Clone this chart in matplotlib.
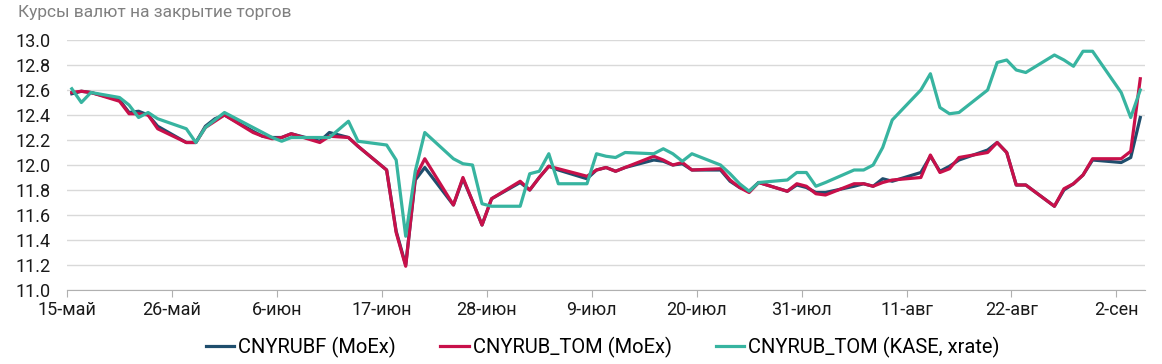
import pandas as pd
import matplotlib.pyplot as plt

# trading days (2024)
dates = ['2024-05-15', '2024-05-16', '2024-05-17', '2024-05-20', '2024-05-21', '2024-05-22',
         '2024-05-23', '2024-05-24', '2024-05-27', '2024-05-28', '2024-05-29', '2024-05-30',
         '2024-05-31', '2024-06-03', '2024-06-04', '2024-06-05', '2024-06-06', '2024-06-07',
         '2024-06-10', '2024-06-11', '2024-06-13', '2024-06-14', '2024-06-17', '2024-06-18',
         '2024-06-19', '2024-06-20', '2024-06-21', '2024-06-24', '2024-06-25', '2024-06-26',
         '2024-06-27', '2024-06-28', '2024-07-01', '2024-07-02', '2024-07-03', '2024-07-04',
         '2024-07-05', '2024-07-08', '2024-07-09', '2024-07-10', '2024-07-11', '2024-07-12',
         '2024-07-15', '2024-07-16', '2024-07-17', '2024-07-18', '2024-07-19', '2024-07-22',
         '2024-07-23', '2024-07-24', '2024-07-25', '2024-07-26', '2024-07-29', '2024-07-30',
         '2024-07-31', '2024-08-01', '2024-08-02', '2024-08-05', '2024-08-06', '2024-08-07',
         '2024-08-08', '2024-08-09', '2024-08-12', '2024-08-13', '2024-08-14', '2024-08-15',
         '2024-08-16', '2024-08-19', '2024-08-20', '2024-08-21', '2024-08-22', '2024-08-23',
         '2024-08-26', '2024-08-27', '2024-08-28', '2024-08-29', '2024-08-30', '2024-09-02',
         '2024-09-03', '2024-09-04']

cnyrubf_moex = [12.57, 12.59, 12.58, 12.52, 12.42, 12.43, 12.40, 12.31, 12.18, 12.18, 12.31, 12.37,
                12.40, 12.27, 12.23, 12.22, 12.22, 12.25, 12.19, 12.26, 12.22, 12.15, 11.96, 11.47,
                11.20, 11.88, 11.98, 11.68, 11.89, 11.71, 11.52, 11.73, 11.86, 11.80, 11.90, 11.99,
                11.96, 11.89, 11.96, 11.98, 11.95, 11.98, 12.04, 12.03, 12.00, 12.01, 11.96, 11.96,
                11.87, 11.82, 11.79, 11.86, 11.79, 11.84, 11.82, 11.78, 11.78, 11.83, 11.85, 11.83,
                11.89, 11.87, 11.94, 12.07, 11.95, 11.99, 12.04, 12.12, 12.18, 12.10, 11.84, 11.84,
                11.67, 11.80, 11.85, 11.92, 12.04, 12.02, 12.06, 12.38]

cnyrub_tom_moex = [12.58, 12.59, 12.58, 12.51, 12.41, 12.41, 12.40, 12.29, 12.18, 12.18, 12.30, 12.35,
                   12.40, 12.26, 12.23, 12.21, 12.22, 12.25, 12.18, 12.23, 12.22, 12.15, 11.96, 11.46,
                   11.19, 11.90, 12.05, 11.68, 11.90, 11.71, 11.52, 11.73, 11.87, 11.80, 11.90, 11.99,
                   11.97, 11.91, 11.96, 11.98, 11.95, 11.98, 12.07, 12.04, 12.00, 12.02, 11.96, 11.97,
                   11.88, 11.82, 11.78, 11.86, 11.79, 11.85, 11.83, 11.77, 11.76, 11.85, 11.85, 11.83,
                   11.86, 11.88, 11.90, 12.08, 11.94, 11.97, 12.06, 12.10, 12.18, 12.10, 11.84, 11.84,
                   11.67, 11.81, 11.85, 11.92, 12.05, 12.05, 12.11, 12.69]

cnyrub_tom_kase = [12.61, 12.50, 12.58, 12.54, 12.48, 12.38, 12.42, 12.37, 12.29, 12.18, 12.30, 12.36,
                   12.42, 12.30, 12.26, 12.22, 12.19, 12.22, 12.22, 12.22, 12.35, 12.19, 12.16, 12.04,
                   11.43, 11.95, 12.26, 12.05, 12.01, 12.00, 11.69, 11.67, 11.67, 11.93, 11.95, 12.09,
                   11.85, 11.85, 12.09, 12.07, 12.06, 12.10, 12.09, 12.13, 12.09, 12.03, 12.09, 12.00,
                   11.93, 11.85, 11.79, 11.86, 11.88, 11.94, 11.94, 11.83, 11.86, 11.96, 11.96, 12.00,
                   12.14, 12.36, 12.60, 12.73, 12.46, 12.41, 12.42, 12.60, 12.82, 12.84, 12.76, 12.74,
                   12.88, 12.84, 12.79, 12.91, 12.91, 12.58, 12.38, 12.60]

tick_dates = ['2024-05-15', '2024-05-26', '2024-06-06', '2024-06-17', '2024-06-28', '2024-07-09',
              '2024-07-20', '2024-07-31', '2024-08-11', '2024-08-22', '2024-09-02']
tick_labels = ['15-май', '26-май', '6-июн', '17-июн', '28-июн', '9-июл',
               '20-июл', '31-июл', '11-авг', '22-авг', '2-сен']

plt.rcParams['font.family'] = ['Roboto', 'DejaVu Sans']

# points sit in the middle of each day, like an Excel date axis
x = pd.to_datetime(dates) + pd.Timedelta(hours=12)

fig = plt.figure(figsize=(11.62, 3.64), dpi=100)
ax = fig.add_axes([0.0577, 0.2033, 0.9277, 0.6868])

ax.plot(x, cnyrubf_moex, color='#1f4e6d', lw=2.3, label='CNYRUBF (MoEx)')
ax.plot(x, cnyrub_tom_moex, color='#c8104a', lw=2.3, label='CNYRUB_TOM (MoEx)')
ax.plot(x, cnyrub_tom_kase, color='#37b4a0', lw=2.3, label='CNYRUB_TOM (KASE, xrate)')

ax.set_ylim(11.0, 13.0)
ax.set_yticks([11.0 + 0.2 * i for i in range(11)])
ax.yaxis.set_major_formatter(plt.FormatStrFormatter('%.1f'))
ax.set_xlim(pd.Timestamp('2024-05-15'), pd.Timestamp('2024-09-05'))
ax.set_xticks(pd.to_datetime(tick_dates))
ax.set_xticklabels(tick_labels)

ax.grid(axis='y', color='#d9d9d9', lw=1)
ax.set_axisbelow(True)
for s in ['left', 'right', 'top']:
    ax.spines[s].set_visible(False)
ax.spines['bottom'].set_color('#b0b0b0')
ax.tick_params(axis='y', length=0, pad=12, labelsize=13, labelcolor='#1a1a1a')
ax.tick_params(axis='x', length=5, color='#b0b0b0', pad=3, labelsize=13, labelcolor='#1a1a1a')

fig.text(0.0155, 0.967, 'Курсы валют на закрытие торгов', color='#808080', fontsize=12.5, va='center')

ax.legend(loc='center', bbox_to_anchor=(0.497, -0.228), ncol=3, frameon=False, fontsize=14.5,
          handlelength=1.4, handletextpad=0.2, columnspacing=2.2)

fig.savefig('out.png', dpi=100)
